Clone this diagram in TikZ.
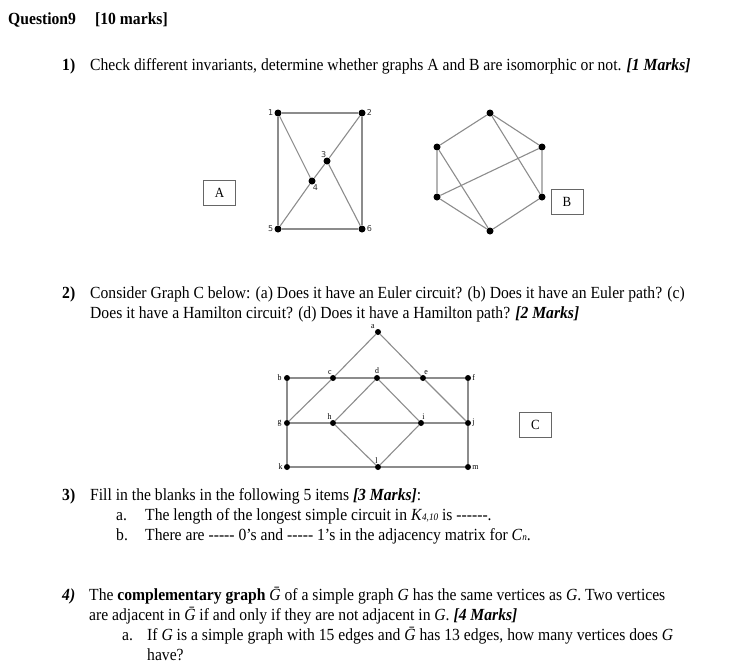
\documentclass[tikz,border=0pt]{standalone}
\usepackage{fontspec}
\usetikzlibrary{positioning}
\setmainfont{Liberation Serif}[FakeStretch=0.92]
\newfontfamily\lab{DejaVu Sans}
\begin{document}
\begin{tikzpicture}[x=1pt,y=-1pt,
 txt/.style={anchor=base west,inner sep=0pt,font=\fontsize{17}{19}\selectfont},
 v/.style={circle,fill=black,inner sep=0pt,minimum size=7pt},
 e/.style={draw=black!45,line width=1.1pt},
 lb/.style={inner sep=1pt,font=\lab\fontsize{8}{9}\selectfont,text=black!80},
 cb/.style={inner sep=1pt,font=\fontsize{8.5}{9}\selectfont},
 bx/.style={draw=black!60,line width=0.6pt,minimum width=32pt,minimum height=25pt,inner sep=0pt,font=\fontsize{14}{15}\selectfont}]
\useasboundingbox (0,0) rectangle (752,667);
\newcommand\dsh{-{}-{}-{}-{}-}
\newcommand\Gb{\textit{\=G}}
\node[txt] (q) at (8,24) {\textbf{Question9}};
\node[txt] (qm) at (95,24) {\textbf{[10 marks]}};
\node[txt] (n1) at (62,70) {\textbf{1)}};
\node[txt] (t1) at (90,70) {Check different invariants, determine whether graphs A and B are isomorphic or not. \textbf{\textit{[1 Marks]}}};
% Graph A
\node[v] (A1) at (278,113) {}; \node[lb,left=0pt of A1] (l1) {1};
\node[v] (A2) at (362,113) {}; \node[lb,right=0pt of A2] (l2) {2};
\node[v] (A3) at (327,161) {}; \node[lb,above left=0pt and -3pt of A3] (l3) {3};
\node[v] (A4) at (312,181) {}; \node[lb,below right=0pt and -3pt of A4] (l4) {4};
\node[v] (A5) at (278,229) {}; \node[lb,left=0pt of A5] (l5) {5};
\node[v] (A6) at (362,229) {}; \node[lb,right=0pt of A6] (l6) {6};
\draw[e] (A1)--(A2)--(A6)--(A5)--(A1);
\draw[e] (A1)--(A4)--(A5); \draw[e] (A4)--(A3)--(A2); \draw[e] (A3)--(A6);
\node[bx] (bA) at (219.5,193) {A};
% Graph B
\node[v] (Bt) at (490,113) {};
\node[v] (Bul) at (437,147) {};
\node[v] (Bur) at (542,147) {};
\node[v] (Bll) at (437,197) {};
\node[v] (Blr) at (542,197) {};
\node[v] (Bb) at (490,231) {};
\draw[e] (Bt)--(Bul)--(Bll)--(Bb)--(Blr)--(Bur)--(Bt);
\draw[e] (Bt)--(Blr); \draw[e] (Bur)--(Bll); \draw[e] (Bul)--(Bb);
\node[bx] (bB) at (567,202) {B};
% Q2
\node[txt] (n2) at (62,298) {\textbf{2)}};
\node[txt] (t2) at (90,298) {Consider Graph C below: (a) Does it have an Euler circuit? (b) Does it have an Euler path? (c)};
\node[txt] (t2b) at (90,318) {Does it have a Hamilton circuit? (d) Does it have a Hamilton path? \textbf{\textit{[2 Marks]}}};
% Graph C
\foreach \n/\x/\y in {a/378/332,b/287/378,c/333/378,d/377/378,e/423/378,f/468/378,g/287/423,h/333/423,i/421/423,j/468/423,k/287/467,l/378/467,m/468/467}
  \node[v,minimum size=6pt] (C\n) at (\x,\y) {};
\node[cb,above left=0pt of Ca] (la) {a};
\node[cb,left=1pt of Cb] (lbb) {b};
\node[cb,above left=0pt and -2pt of Cc] (lc) {c};
\node[cb,above=0pt of Cd] (ld) {d};
\node[cb,above right=0pt and -2pt of Ce] (le) {e};
\node[cb,right=0pt of Cf] (lf) {f};
\node[cb,left=1pt of Cg] (lg) {g};
\node[cb,above left=0pt and -2pt of Ch] (lh) {h};
\node[cb,above right=0pt and -2pt of Ci] (li) {i};
\node[cb,right=0pt of Cj] (lj) {j};
\node[cb,left=0pt of Ck] (lk) {k};
\node[cb,above left=0pt and -3pt of Cl] (ll) {l};
\node[cb,right=0pt of Cm] (lm) {m};
\draw[e] (Cg)--(Cc)--(Ca)--(Ce)--(Cj);
\draw[e] (Cb)--(Cc)--(Cd)--(Ce)--(Cf);
\draw[e] (Cg)--(Ch)--(Ci)--(Cj);
\draw[e] (Cd)--(Ch)--(Cl)--(Ci)--(Cd);
\draw[e] (Cb)--(Cg)--(Ck)--(Cl)--(Cm)--(Cj)--(Cf);
\node[bx] (bC) at (535.5,425) {C};
% Q3
\node[txt] (n3) at (62,500) {\textbf{3)}};
\node[txt] (t3) at (90,500) {Fill in the blanks in the following 5 items \textbf{\textit{[3 Marks]}}:};
\node[txt] (t3a0) at (116,520) {a.};
\node[txt] (t3a) at (145,520) {The length of the longest simple circuit in \textit{K}{\fontsize{10}{10}\selectfont\textit{4,10}} is -{}\dsh.};
\node[txt] (t3b0) at (116,540) {b.};
\node[txt] (t3b) at (145,540) {There are \dsh{} 0’s and \dsh{} 1’s in the adjacency matrix for \textit{C}{\fontsize{10}{10}\selectfont\textit{n}}.};
% Q4
\node[txt] (n4) at (62,600) {\textbf{\textit{4)}}};
\node[txt] (t4) at (89,600) {The \textbf{complementary graph} \Gb{} of a simple graph \textit{G} has the same vertices as \textit{G}. Two vertices};
\node[txt] (t4b) at (89,620) {are adjacent in \Gb{} if and only if they are not adjacent in \textit{G}. \textbf{\textit{[4 Marks]}}};
\node[txt] (t4a0) at (122,640) {a.};
\node[txt] (t4a) at (147,640) {If \textit{G} is a simple graph with 15 edges and \Gb{} has 13 edges, how many vertices does \textit{G}};
\node[txt] (t4c) at (147,660) {have?};
\end{tikzpicture}
\end{document}
